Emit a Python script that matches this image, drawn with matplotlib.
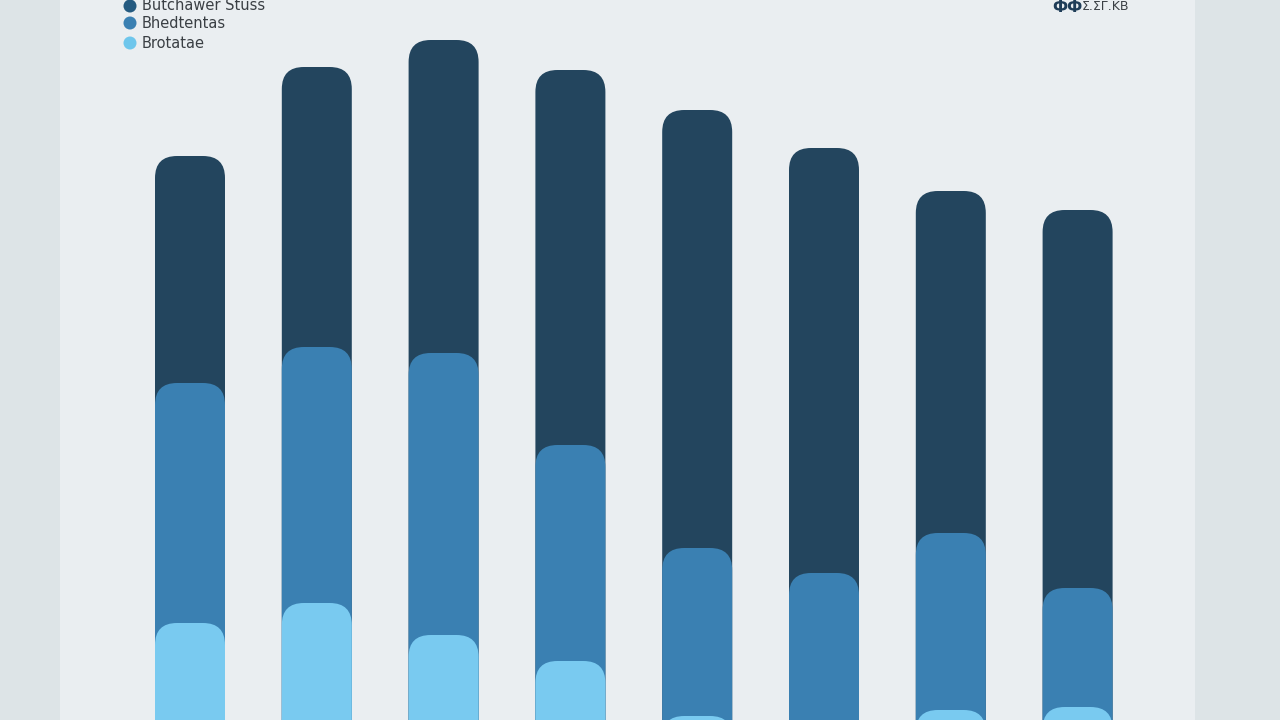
import matplotlib
matplotlib.use("Agg")
import matplotlib.pyplot as plt
from matplotlib.patches import FancyBboxPatch, Rectangle, Circle

# ---- data ----
categories = ["1", "2", "3", "4", "5", "6", "7", "8"]
series_names = ["Butchawer Stuss", "Bhedtentas", "Brotatae"]
light_vals = [97, 117, 85, 59, 4, 0, 10, 13]
mid_vals = [240, 256, 282, 216, 168, 147, 177, 119]
dark_vals = [227, 280, 313, 375, 438, 425, 342, 378]

dark_c = "#23455e"
mid_c = "#3a80b2"
light_c = "#79caf0"

W, H = 1280, 720
fig = plt.figure(figsize=(12.8, 7.2), dpi=100)
fig.patch.set_facecolor("#dde4e7")

# background axes in pixel coordinates
bg = fig.add_axes([0, 0, 1, 1], zorder=0)
bg.set_xlim(0, W)
bg.set_ylim(H, 0)
bg.axis("off")
panel_l, panel_r = 60, 1195
bg.add_patch(Rectangle((panel_l, 0), panel_r - panel_l, H,
                       facecolor="#eaeef1", edgecolor="none"))

ax = fig.add_axes([panel_l / W, 0, (panel_r - panel_l) / W, 1], zorder=1)
ax.set_facecolor("none")
x0, step = 190, 126.8
xmin = (panel_l - x0) / step
xmax = (panel_r - x0) / step
ax.set_xlim(xmin, xmax)
ax.set_ylim(0, 720)
ax.axis("off")

px_per_x = (panel_r - panel_l) / (xmax - xmin)
px_per_y = H / 720
aspect = px_per_x / px_per_y
bw = 70 / px_per_x
r = 22 / px_per_x

def rbar(x, top, color):
    base = -40
    p = FancyBboxPatch((x - bw / 2, base), bw, top - base,
                       boxstyle=f"round,pad=0,rounding_size={r}",
                       mutation_aspect=aspect, facecolor=color,
                       edgecolor="none")
    ax.add_patch(p)

for i in range(len(categories)):
    l = light_vals[i]
    m = l + mid_vals[i]
    d = m + dark_vals[i]
    rbar(i, d, dark_c)
    rbar(i, m, mid_c)
    if l > 0:
        rbar(i, l, light_c)

# overlay for legend and mark
ov = fig.add_axes([0, 0, 1, 1], zorder=2)
ov.set_xlim(0, W)
ov.set_ylim(H, 0)
ov.axis("off")
leg_y = [6, 23, 43]
leg_c = ["#245a80", mid_c, "#6ec6ec"]
for yy, c, name in zip(leg_y, leg_c, series_names):
    ov.add_patch(Circle((130, yy), 6.5, facecolor=c, edgecolor="none"))
    ov.text(142, yy, name, fontsize=10.5, color="#3a3f44",
            va="center", ha="left", family="Liberation Sans Narrow")

ov.text(1052, 7, "ФФ", fontsize=11, fontweight="bold",
        color="#1f3d58", va="center", ha="left")
ov.text(1082, 6, "Σ.ΣΓ.ΚΒ", fontsize=9, color="#3a3f44",
        va="center", ha="left")

fig.savefig("out.png", dpi=100)
